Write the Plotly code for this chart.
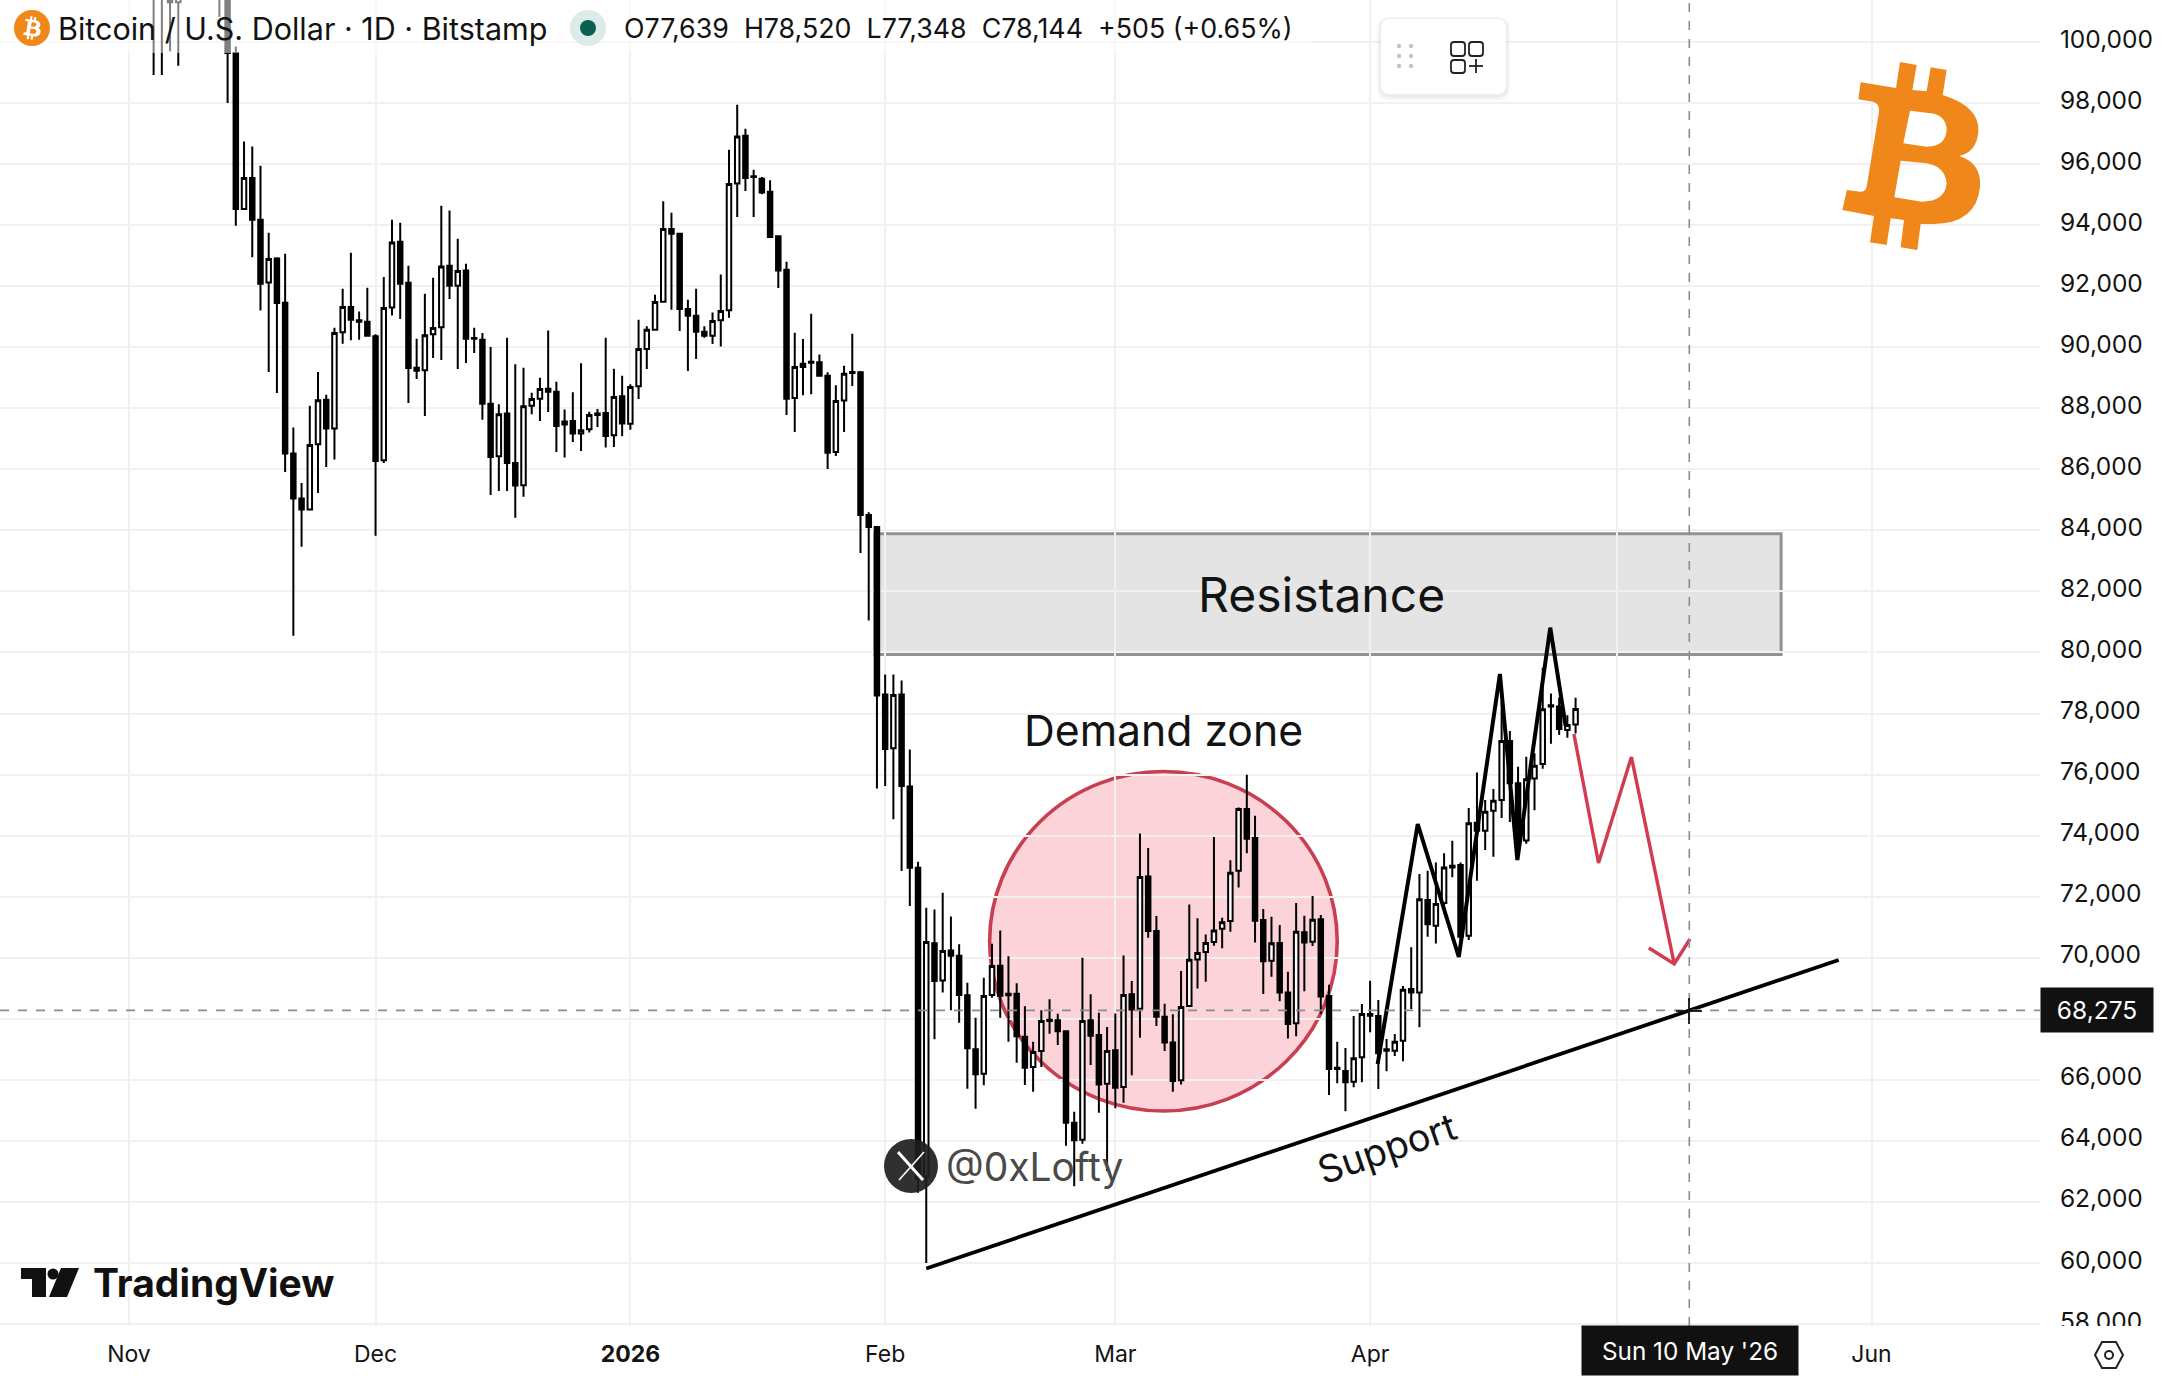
# %%
import pandas as pd
import plotly.graph_objects as go


# %% daily candles, Nov 2025 to Apr 2026 (first ones run off the top)
dates = pd.date_range("2025-11-04", "2026-04-26", freq="D")

opens = [
    106500, 101500, 103900, 101300, 103300, 102300, 104700, 105900, 103000, 101700,
    99638, 94527, 95543, 94175, 92123, 92909, 91458, 86516, 85043, 84683,
    86821, 88283, 87334, 90487, 91316, 90880, 90836,
    # dec
    90356, 86297, 91305, 93455, 92113, 89331, 89243, 90422, 90651, 92669,
    92014, 92516, 90302, 90247, 88152, 86428, 87825, 86210, 85479, 88087,
    88316, 88643, 88545, 87465, 87585, 87170, 87312, 87825, 87847, 87116, 88392,
    # jan
    87495, 88718, 89941, 90574, 91492, 93872, 93719, 91251, 91033, 90509,
    90378, 90880, 91208, 95368, 96930, 95598, 95521, 95095, 93632, 92540,
    88336, 89461, 89526, 89504, 89067, 86567, 88259, 89188, 89177, 84503, 84110,
    # feb
    78627, 76858, 78627, 75613, 72948, 62830, 70470, 69257, 70240, 70066,
    68766, 66997, 66200, 68777, 69738, 68820, 68820, 67412, 66418, 66942,
    67969, 67947, 67587, 64595, 64038, 67947, 67467, 65872,
    # mar
    66964, 65763, 68799, 68329, 72664, 70874, 68067, 67226, 65982, 68417,
    69945, 70186, 70513, 70950, 71201, 72850, 74870, 73920, 71234, 69902,
    70480, 68864, 67849, 70830, 70524, 71256, 68744, 66396, 66287, 65938, 66735,
    # apr
    68155, 68089, 66953, 66953, 67281, 68974, 68864, 71889, 71048, 71791,
    73014, 73036, 70721, 74423, 74161, 74816, 75165, 77102, 75715, 73836,
    75870, 76350, 78268, 78229, 77464, 77639,
]
highs = [
    107000, 104500, 104200, 104000, 103900, 105400, 106600, 107500, 105300, 104000,
    99856, 96744, 96580, 95947, 93750, 92950, 93062, 87367, 85556, 88087,
    89189, 88447, 90640, 91916, 93094, 91174, 91949,
    # dec
    90422, 92298, 94175, 94076, 92669, 90280, 91752, 92276, 94633, 94480,
    93553, 92734, 90640, 90465, 90007, 88130, 90312, 89440, 89331, 88512,
    89003, 90552, 88872, 87956, 88523, 89472, 87890, 87977, 90312, 89298, 89069,
    # jan
    88784, 90902, 90684, 91721, 94779, 94407, 93719, 91557, 91917, 90684,
    91142, 92387, 96471, 97945, 97159, 95816, 95576, 95467, 93632, 92802,
    90476, 90269, 91099, 89766, 89177, 88751, 89395, 90443, 89220, 84590, 84110,
    # feb
    79282, 79282, 79085, 76825, 73145, 71638, 71583, 72129, 71354, 70437,
    69181, 68034, 69345, 70459, 70895, 70044, 69159, 68406, 67248, 68275,
    68635, 68165, 67620, 64955, 70000, 68799, 68198, 67729,
    # mar
    68176, 70076, 69236, 74070, 73595, 71365, 68493, 68144, 69563, 71747,
    71289, 70764, 73955, 71310, 73189, 74925, 75995, 74652, 71594, 71343,
    71070, 69541, 71791, 71376, 72020, 71398, 69115, 67248, 67041, 68089, 68482,
    # apr
    69247, 68613, 67336, 67499, 69072, 70339, 72741, 72850, 73123, 73418,
    73833, 73123, 74903, 76071, 75165, 75526, 78398, 77426, 76259, 76583,
    76700, 79499, 78657, 78527, 77944, 78520,
]
lows = [
    98919, 98919, 99700, 99224, 101900, 101700, 104400, 102500, 100820, 98000,
    93981, 94500, 92950, 91207, 89189, 88500, 85916, 80548, 83461, 84650,
    85228, 86079, 86319, 90116, 90225, 90247, 90378,
    # dec
    83821, 86210, 91043, 90923, 88174, 88960, 87748, 89647, 89581, 91578,
    89287, 89483, 89811, 87628, 85163, 85294, 85294, 84410, 85098, 87803,
    87585, 87879, 86570, 86385, 86897, 86603, 87203, 87389, 86712, 86734, 87083,
    # jan
    87298, 88303, 89286, 90574, 91492, 91230, 90531, 89220, 89613, 90313,
    90105, 90028, 90968, 94265, 95117, 94265, 95008, 93610, 91939, 87779,
    87222, 88423, 88456, 89067, 86010, 86436, 87222, 88729, 83258, 81050, 75547,
    # feb
    75624, 74532, 72839, 71693, 62300, 60000, 67325, 68864, 68275, 67871,
    65708, 65053, 65818, 68690, 68034, 67248, 66560, 65829, 65610, 66418,
    67510, 67139, 63841, 62509, 63907, 66484, 64922, 63011,
    # mar
    65064, 65250, 66145, 67379, 70655, 67761, 66942, 65610, 65850, 68417,
    68995, 69214, 70393, 70306, 70852, 72304, 73418, 70502, 68810, 69378,
    68570, 67357, 67423, 68897, 70382, 68155, 65501, 65883, 64966, 65752, 65916,
    # apr
    67554, 65698, 66276, 66779, 66604, 68318, 67718, 70688, 70469, 71430,
    72632, 70339, 70579, 72522, 73527, 73309, 74574, 74444, 73538, 73732,
    74834, 76194, 77011, 77296, 77205, 77348,
]
closes = [
    101500, 103900, 101300, 103300, 102300, 104700, 105900, 103000, 101700, 99640,
    94527, 95543, 94175, 92080, 92887, 91447, 86516, 85043, 84683, 86800,
    88261, 87334, 90465, 91316, 90902, 90836, 90378,
    # dec
    86276, 91283, 93433, 92080, 89320, 89232, 90389, 90629, 92647, 92014,
    92494, 90280, 90280, 88152, 86406, 87803, 86210, 85468, 88065, 88305,
    88632, 88545, 87421, 87563, 87170, 87279, 87781, 87781, 87094, 88370, 87498,
    # jan
    88696, 89941, 90574, 91481, 93872, 93719, 91251, 91033, 90509, 90378,
    90859, 91186, 95346, 96908, 95543, 95576, 95073, 93610, 92518, 88314,
    89351, 89351, 89490, 89067, 86545, 88237, 89133, 89155, 84503, 84110, 78594,
    # feb
    76836, 78605, 75624, 72948, 62750, 70515, 69236, 70218, 70066, 68777,
    67030, 66178, 68744, 69727, 68755, 68766, 67423, 66396, 66910, 67925,
    67925, 67587, 64595, 64016, 67925, 67445, 65850, 66942,
    # mar
    65741, 68777, 68307, 72643, 70874, 68067, 67226, 65960, 68384, 69934,
    70153, 70480, 70895, 71158, 72785, 74870, 73898, 71212, 69880, 70470,
    68864, 67827, 70852, 70502, 71245, 68733, 66353, 66353, 65916, 66702, 68155,
    # apr
    68100, 66866, 66999, 67248, 68952, 68864, 71911, 71092, 71758, 72959,
    72959, 70688, 74401, 74161, 74783, 75143, 77102, 75715, 73862, 75844,
    76285, 78138, 78229, 77490, 77620, 78144,
]

price_ticks = list(range(58000, 100001, 2000))
# 68,000 sits under the last price tag, its grid line stays
price_labels = ["" if p == 68000 else f"{p:,}" for p in price_ticks]
month_ticks = ["2025-11-01", "2025-12-01", "2026-01-01", "2026-02-01", "2026-03-01",
               "2026-04-01", "2026-05-01", "2026-06-01"]
month_labels = ["Nov", "Dec", "<b>2026</b>", "Feb", "Mar", "Apr", "", "Jun"]

# drawings on top of the candles
support_dates = ["2026-02-06 00:00", "2026-05-28 00:00"]
support_prices = [59820, 69925]
swing_dates = ["2026-04-01 22:00", "2026-04-06 19:00", "2026-04-11 19:00", "2026-04-16 19:00",
               "2026-04-18 22:00", "2026-04-22 22:00", "2026-04-24 19:00"]
swing_prices = [66518, 74381, 70024, 79295, 73202, 80812, 77592]
forecast_dates = ["2026-04-25 19:00", "2026-04-28 19:00", "2026-05-02 19:00", "2026-05-08 00:00"]
forecast_prices = [77330, 73103, 76576, 69795]
arrow_dates = ["2026-05-04 22:00", "2026-05-08 00:00", "2026-05-09 22:00"]
arrow_prices = [70319, 69795, 70613]
resistance_dates = ["2026-01-30 18:00", "2026-05-21 00:00"]
resistance_prices = [79937, 83890]
demand_dates = ["2026-02-13 17:00", "2026-03-28 00:00"]
demand_prices = [64978, 76100]
cross_date = "2026-05-09 20:00"
cross_price = 68275

PLOT_W, PLOT_H = 2040, 1326
FONT = "Inter"
INK = "#131313"


def px(x):
    return x / PLOT_W


def py(y):
    return 1 - y / PLOT_H


def paper_rect(x0, y0, x1, y1, **kw):
    return dict(type="rect", xref="paper", yref="paper", x0=px(x0), x1=px(x1),
                y0=py(y0), y1=py(y1), layer="above", **kw)


def paper_circle(cx, cy, r, **kw):
    return dict(type="circle", xref="paper", yref="paper", x0=px(cx - r), x1=px(cx + r),
                y0=py(cy - r), y1=py(cy + r), layer="above", **kw)


def paper_path(points, **kw):
    path = "M" + " L".join(f"{px(x):.5f},{py(y):.5f}" for x, y in points) + " Z"
    return dict(type="path", xref="paper", yref="paper", path=path, layer="above", **kw)


def rounded_rect(x0, y0, x1, y1, r, **kw):
    def p(x, y):
        return f"{px(x):.5f},{py(y):.5f}"

    path = (
        f"M{p(x0 + r, y0)} L{p(x1 - r, y0)} Q{p(x1, y0)} {p(x1, y0 + r)} "
        f"L{p(x1, y1 - r)} Q{p(x1, y1)} {p(x1 - r, y1)} L{p(x0 + r, y1)} "
        f"Q{p(x0, y1)} {p(x0, y1 - r)} L{p(x0, y0 + r)} Q{p(x0, y0)} {p(x0 + r, y0)} Z"
    )
    return dict(type="path", xref="paper", yref="paper", path=path, layer="above", **kw)


def btc_path(ox, oy, scale):
    """bitcoin sign outline, traced at 3x with origin at (1700, 0)"""
    def p(x, y):
        return f"{px(ox + x * scale):.5f},{py(oy + y * scale):.5f}"

    return (
        f"M{p(482, 247)} L{p(588, 264)} L{p(600, 186)} L{p(650, 195)} L{p(637, 270)} "
        f"L{p(680, 274)} L{p(692, 202)} L{p(740, 210)} L{p(728, 285)} "
        f"Q{p(840, 320)} {p(835, 395)} Q{p(830, 455)} {p(778, 468)} "
        f"Q{p(845, 490)} {p(840, 560)} Q{p(830, 670)} {p(700, 672)} "
        f"L{p(662, 672)} L{p(652, 750)} L{p(602, 742)} L{p(612, 660)} L{p(572, 655)} "
        f"L{p(560, 735)} L{p(510, 727)} L{p(522, 648)} L{p(427, 630)} L{p(441, 570)} "
        f"L{p(480, 575)} Q{p(497, 575)} {p(500, 560)} L{p(537, 335)} "
        f"Q{p(540, 312)} {p(520, 305)} L{p(475, 298)} Z "
        f"M{p(630, 332)} L{p(610, 430)} L{p(680, 440)} Q{p(740, 440)} {p(740, 385)} "
        f"Q{p(735, 340)} {p(680, 338)} Z "
        f"M{p(602, 482)} L{p(583, 592)} L{p(665, 605)} Q{p(735, 605)} {p(740, 550)} "
        f"Q{p(735, 500)} {p(680, 490)} Z"
    )


# %%
fig = go.Figure()

fig.add_candlestick(
    x=dates,
    open=opens,
    high=highs,
    low=lows,
    close=closes,
    whiskerwidth=0,
    increasing=dict(line=dict(color="#000000", width=2), fillcolor="#ffffff"),
    decreasing=dict(line=dict(color="#000000", width=2), fillcolor="#000000"),
    hoverinfo="skip",
    showlegend=False,
)
fig.add_scatter(x=support_dates, y=support_prices, mode="lines", hoverinfo="skip", showlegend=False,
                line=dict(color="#000000", width=3.8))
fig.add_scatter(x=swing_dates, y=swing_prices, mode="lines", hoverinfo="skip", showlegend=False,
                line=dict(color="#000000", width=4))
fig.add_scatter(x=forecast_dates, y=forecast_prices, mode="lines", hoverinfo="skip", showlegend=False,
                line=dict(color="#d23b52", width=3.4))
fig.add_scatter(x=arrow_dates, y=arrow_prices, mode="lines", hoverinfo="skip", showlegend=False,
                line=dict(color="#d23b52", width=3.4))

shapes = [
    dict(type="rect", xref="x", yref="y", layer="below",
         x0=resistance_dates[0], x1=resistance_dates[1],
         y0=resistance_prices[0], y1=resistance_prices[1],
         fillcolor="rgba(205,205,205,0.55)", line=dict(color="#929292", width=3)),
    dict(type="circle", xref="x", yref="y", layer="below",
         x0=demand_dates[0], x1=demand_dates[1], y0=demand_prices[0], y1=demand_prices[1],
         fillcolor="rgba(240,70,95,0.24)", line=dict(color="#c93f52", width=3.6)),
    # crosshair
    dict(type="line", xref="paper", yref="y", x0=0, x1=1, y0=cross_price, y1=cross_price,
         layer="above", line=dict(color="#8c8c8c", width=1.6, dash="9px 9px")),
    dict(type="line", xref="x", yref="paper", x0=cross_date, x1=cross_date, y0=0, y1=1,
         layer="above", line=dict(color="#8c8c8c", width=1.6, dash="9px 9px")),
    # legend strip fades what runs behind it
    paper_rect(0, 0, 1310, 53, fillcolor="rgba(255,255,255,0.5)", line_width=0),
    # cuts the lowest price label at the pane edge
    paper_rect(2040, PLOT_H, 2174, 1380, fillcolor="#ffffff", line_width=0),
    # symbol icon and market status dot
    paper_circle(32, 28, 18, fillcolor="#f0871a", line_width=0),
    dict(type="path", xref="paper", yref="paper", layer="above",
         path=btc_path(32 - 635 * 0.042, 28 - 468 * 0.042, 0.042), fillcolor="#ffffff", line_width=0),
    paper_circle(588, 28, 18, fillcolor="#dcece8", line_width=0),
    paper_circle(588, 28, 8, fillcolor="#0b5f4e", line_width=0),
    # large logo
    dict(type="path", xref="paper", yref="paper", layer="above",
         path=btc_path(1700, 0, 1 / 3), fillcolor="#f0871a", line_width=0),
    # X badge
    paper_circle(911, 1166, 27, fillcolor="rgba(30,30,30,0.92)", line_width=0),
    dict(type="line", xref="paper", yref="paper", layer="above", x0=px(898), x1=px(923),
         y0=py(1152), y1=py(1180), line=dict(color="#ffffff", width=3)),
    dict(type="line", xref="paper", yref="paper", layer="above", x0=px(924), x1=px(899),
         y0=py(1152), y1=py(1180), line=dict(color="#ffffff", width=1.6)),
    # toolbar widget, soft shadow under a rounded card
    rounded_rect(1377, 17, 1510, 100, 12, fillcolor="rgba(0,0,0,0.03)", line_width=0),
    rounded_rect(1379, 18, 1508, 98, 11, fillcolor="rgba(0,0,0,0.04)", line_width=0),
    rounded_rect(1381, 19, 1506, 94, 9, fillcolor="#ffffff", line_width=0),
    rounded_rect(1451, 42, 1465, 56, 3, fillcolor="#ffffff", line=dict(color="#222222", width=1.8)),
    rounded_rect(1469, 42, 1483, 56, 3, fillcolor="#ffffff", line=dict(color="#222222", width=1.8)),
    rounded_rect(1451, 60, 1465, 73, 3, fillcolor="#ffffff", line=dict(color="#222222", width=1.8)),
    dict(type="line", xref="paper", yref="paper", layer="above", x0=px(1469), x1=px(1483),
         y0=py(66), y1=py(66), line=dict(color="#222222", width=1.8)),
    dict(type="line", xref="paper", yref="paper", layer="above", x0=px(1476), x1=px(1476),
         y0=py(59), y1=py(73), line=dict(color="#222222", width=1.8)),
    # TradingView mark
    paper_path([(21, 1268), (46, 1268), (46, 1297), (32, 1297), (32, 1279), (21, 1279)],
               fillcolor="#111111", line_width=0),
    paper_circle(53, 1274, 5.5, fillcolor="#111111", line_width=0),
    paper_path([(61, 1268), (79, 1268), (67, 1297), (49, 1297)], fillcolor="#111111", line_width=0),
    # settings hexagon in the corner
    paper_path([(2095, 1355), (2102, 1342), (2116, 1342), (2123, 1355), (2116, 1368), (2102, 1368)],
               fillcolor="rgba(0,0,0,0)", line=dict(color="#222222", width=2)),
    paper_circle(2109, 1355, 4, fillcolor="rgba(0,0,0,0)", line=dict(color="#222222", width=2)),
    # cursor cross where the support line meets the last price
    dict(type="line", xref="paper", yref="paper", layer="above", x0=px(1676), x1=px(1702),
         y0=py(1011), y1=py(1011), line=dict(color="#111111", width=1.8)),
    dict(type="line", xref="paper", yref="paper", layer="above", x0=px(1689), x1=px(1689),
         y0=py(998), y1=py(1024), line=dict(color="#111111", width=1.8)),
]
for dot_x in (1399, 1411):
    for dot_y in (46, 56, 66):
        shapes.append(paper_circle(dot_x, dot_y, 2.2, fillcolor="#c4c4c4", line_width=0))


def note(text, x, y, size, color=INK, xanchor="center", **kw):
    return dict(text=text, xref="paper", yref="paper", x=px(x), y=py(y), xanchor=xanchor,
                yanchor="middle", showarrow=False, font=dict(family=FONT, size=size, color=color), **kw)


annotations = [
    note("Bitcoin / U.S. Dollar · 1D · Bitstamp", 56, 28, 30.5, xanchor="left"),
    note("O77,639  H78,520  L77,348  C78,144  +505 (+0.65%)", 622, 28, 26.8, xanchor="left"),
    note("Resistance", 1321, 594, 48),
    note("Demand zone", 1163, 730, 42.7),
    note("Support", 1387, 1148, 38, textangle=-19),
    note("@0xLofty", 944, 1166, 39, color="#4a4a4a", xanchor="left"),
    note("<b>TradingView</b>", 91, 1282, 39, color="#111111", xanchor="left"),
    note("68,275", 2097, 1010, 24.5, color="#ffffff", bgcolor="#111111", width=110, height=42),
    note("Sun 10 May '26", 1689.5, 1350, 24.3, color="#ffffff", bgcolor="#111111", width=214, height=47),
]

fig.update_layout(
    width=2174,
    height=1380,
    margin=dict(l=0, r=134, t=0, b=54),
    paper_bgcolor="#ffffff",
    plot_bgcolor="#ffffff",
    shapes=shapes,
    annotations=annotations,
    showlegend=False,
    boxgap=0.22,
    font=dict(family=FONT, color=INK),
    xaxis=dict(
        type="date",
        range=["2025-10-16 07:26", "2026-06-21 12:00"],
        rangeslider=dict(visible=False),
        tickmode="array",
        tickvals=month_ticks,
        ticktext=month_labels,
        showgrid=True,
        gridcolor="#f1f1f2",
        gridwidth=1.6,
        ticks="outside",
        ticklen=7,
        tickcolor="rgba(0,0,0,0)",
        tickfont=dict(family=FONT, size=23, color=INK),
        showline=False,
        zeroline=False,
    ),
    yaxis=dict(
        side="right",
        range=[57934, 101376],
        tickmode="array",
        tickvals=price_ticks,
        ticktext=price_labels,
        showgrid=True,
        gridcolor="#f1f1f2",
        gridwidth=2,
        ticks="outside",
        ticklen=14,
        tickcolor="rgba(0,0,0,0)",
        ticklabelshift=-3,
        tickfont=dict(family=FONT, size=24.5, color=INK),
        showline=False,
        zeroline=False,
    ),
)

fig.write_html(
    "out.html",
    config=dict(displayModeBar=False),
    post_script="document.body.style.margin = '0';",
)
